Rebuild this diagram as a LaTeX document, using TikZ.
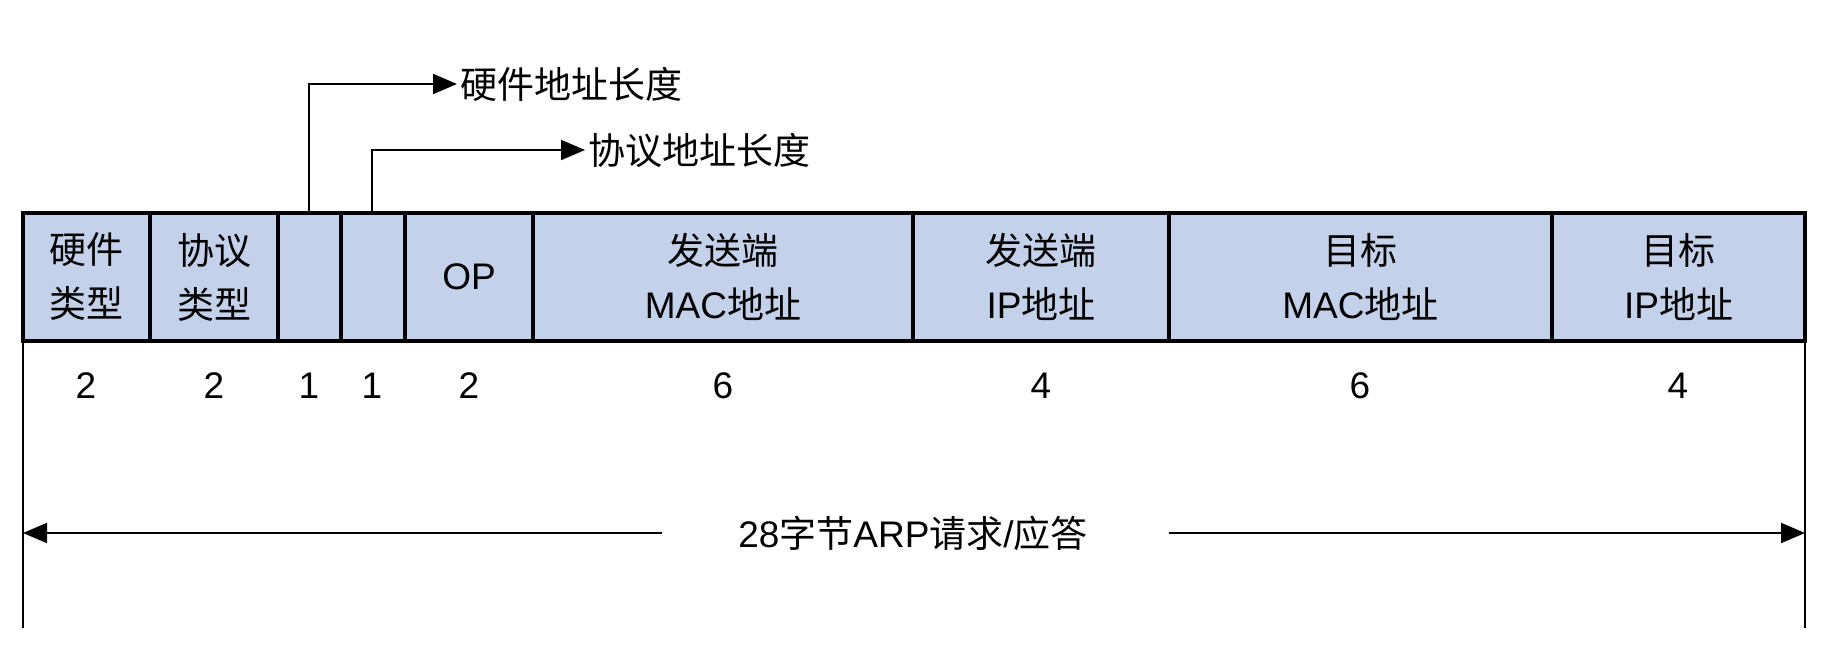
\documentclass[tikz,border=0pt]{standalone}
\usepackage{fontspec}
\setmainfont{Liberation Sans}
\newfontfamily\cjk{Noto Sans CJK SC}
\usetikzlibrary{arrows.meta}
\begin{document}
\begin{tikzpicture}[x=1pt,y=-1pt,
  field/.style={draw=black,line width=4pt,fill={rgb,255:red,195;green,210;blue,234}},
  lab/.style={font=\fontsize{37}{54}\selectfont,align=center},
  conn/.style={line width=2pt,-{Triangle[length=24pt,width=20pt]}}]
\useasboundingbox (0,0) rectangle (1836,648);
\foreach \a/\b/\t [count=\i] in {23/150/{{\cjk 硬件}\\{\cjk 类型}},150/278/{{\cjk 协议}\\{\cjk 类型}},278/341/{},341/405/{},405/533/{OP},533/913/{{\cjk 发送端}\\MAC{\cjk 地址}},913/1169/{{\cjk 发送端}\\IP{\cjk 地址}},1169/1552/{{\cjk 目标}\\MAC{\cjk 地址}},1552/1805/{{\cjk 目标}\\IP{\cjk 地址}}}{
  \draw[field] (\a,213) rectangle (\b,341);
  \node[lab] (f\i) at ({(\a+\b)/2},277) {\t};
}
\foreach \x/\n [count=\i] in {86/2,214/2,309/1,372/1,469/2,723/6,1041/4,1360/6,1678/4}
  \node[lab] (n\i) at (\x,386) {\n};
\coordinate (hw0) at (309,213); \coordinate (hw1) at (309,84);
\coordinate (pr0) at (372,213); \coordinate (pr1) at (372,150);
\node[lab,anchor=west] (hwl) at (457,84) {\cjk 硬件地址长度};
\node[lab,anchor=west] (prl) at (585,150) {\cjk 协议地址长度};
\draw[conn] (hw0) -- (hw1) -- (hwl.west);
\draw[conn] (pr0) -- (pr1) -- (prl.west);
\coordinate (l0) at (23,341); \coordinate (l1) at (23,628);
\coordinate (r0) at (1805,341); \coordinate (r1) at (1805,628);
\draw[line width=2pt] (l0) -- (l1); \draw[line width=2pt] (r0) -- (r1);
\node[lab] (tot) at (913,533) {28{\cjk 字节}ARP{\cjk 请求}/{\cjk 应答}};
\coordinate (la) at (23,533); \coordinate (ra) at (1805,533);
\draw[conn] (662,533) -- (la);
\draw[conn] (1169,533) -- (ra);
\end{tikzpicture}
\end{document}
